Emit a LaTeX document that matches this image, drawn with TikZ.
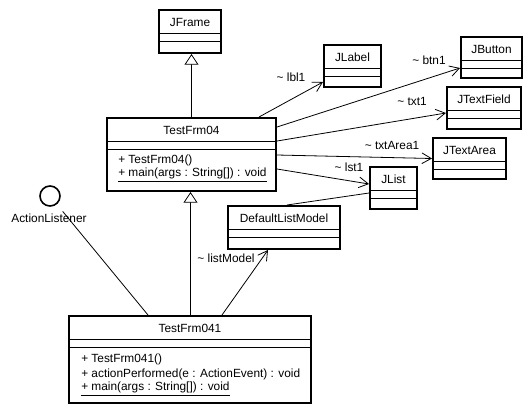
\documentclass[tikz,border=0pt]{standalone}
\usepackage{fontspec}
\setmainfont{Liberation Sans}
\usetikzlibrary{calc, arrows.meta}

\tikzset{
  classbox/.style={draw, line width=1.5pt, anchor=north, inner sep=0pt},
  member/.style={anchor=west, inner sep=0pt},
  role/.style={inner sep=1pt},
  assoc/.style={-{Straight Barb[length=7pt,width=8pt]}, line width=0.6pt},
  inherit/.style={-{Triangle[open, length=8pt, width=10.5pt, fill=white]}, line width=0.6pt},
}

\newcommand{\umlclass}[6]{%
  \node[classbox, minimum width=#4*0.75pt, minimum height=#5*0.75pt] (#1) at (#2,#3) {};
  \draw[line width=0.75pt] ($(#1.north west)+(0,24)$) -- ($(#1.north east)+(0,24)$);
  \draw[line width=0.75pt] ($(#1.north west)+(0,32)$) -- ($(#1.north east)+(0,32)$);
  \node at ($(#1.north)+(0,13.5)$) {#6};
}

\begin{document}
\begin{tikzpicture}[x=0.75pt, y=-0.75pt, font=\fontsize{8.9}{11}\selectfont]
  \useasboundingbox (0,0) rectangle (532,412);

  \umlclass{jframe}{190}{9}{62}{43}{JFrame}
  \umlclass{jlabel}{352.5}{44}{57}{42}{JLabel}
  \umlclass{jbutton}{491.5}{36}{61}{41}{JButton}
  \umlclass{jtextfield}{484}{86}{74}{42}{JTextField}
  \umlclass{jtextarea}{469.5}{137}{73}{41}{JTextArea}
  \umlclass{jlist}{393.5}{166}{47}{42}{JList}
  \umlclass{listmodel}{284}{205}{112}{43}{DefaultListModel}
  \umlclass{frm}{191.5}{117}{169}{73}{TestFrm04}
  \umlclass{frmsub}{190}{315}{242}{87}{TestFrm041}

  \node[member] at ($(frm.north west)+(12,43)$) {+ TestFrm04()};
  \node[member] at ($(frm.north west)+(12,58)$) {\underline{+ main(args : String[]) : void}};
  \node[member] at ($(frmsub.north west)+(13,44)$) {+ TestFrm041()};
  \node[member] at ($(frmsub.north west)+(13,59)$) {+ actionPerformed(e : ActionEvent) : void};
  \node[member] at ($(frmsub.north west)+(13,74)$) {\underline{+ main(args : String[]) : void}};

  \node[draw, circle, line width=1.2pt, minimum size=20*0.75pt, inner sep=0pt] (listener) at (50,196) {};
  \node (listenername) at (49,218) {ActionListener};

  \draw[inherit] (frm.north) -- (frm.north |- jframe.south);
  \draw[inherit] ($(frmsub.north)+(0.5,0)$) -- ($(frmsub.north |- frm.south)+(0.5,0)$);

  \draw[assoc] ($(frm.north west)+(153,0)$) -- ($(jlabel.west)+(0,16)$);
  \draw[assoc] ($(frm.east)+(0,-27.5)$) -- ($(jbutton.west)+(0,10.5)$);
  \draw[assoc] ($(frm.east)+(0,-13.5)$) -- ($(jtextfield.west)+(0,5)$);
  \draw[assoc] ($(frm.east)+(0,0.5)$) -- (jtextarea.west);
  \draw[assoc] ($(frm.east)+(0,14.5)$) -- ($(jlist.west)+(0,-4)$);
  \draw[line width=0.6pt] ($(listmodel.north)+(3,0)$) -- ($(jlist.west)+(0,5)$);
  \draw[assoc] ($(frmsub.north)+(32,0)$) -- ($(listmodel.south)+(-16,0)$);
  \draw[line width=0.6pt, shorten <=15pt] (listener.center) -- ($(frmsub.north)+(-42,0)$);

  \node[role] at (291,77) {\textasciitilde{} lbl1};
  \node[role] at (429,60) {\textasciitilde{} btn1};
  \node[role] at (412,101) {\textasciitilde{} txt1};
  \node[role] at (392,145) {\textasciitilde{} txtArea1};
  \node[role] at (349,167) {\textasciitilde{} lst1};
  \node[role] at (226,258) {\textasciitilde{} listModel};
\end{tikzpicture}
\end{document}
